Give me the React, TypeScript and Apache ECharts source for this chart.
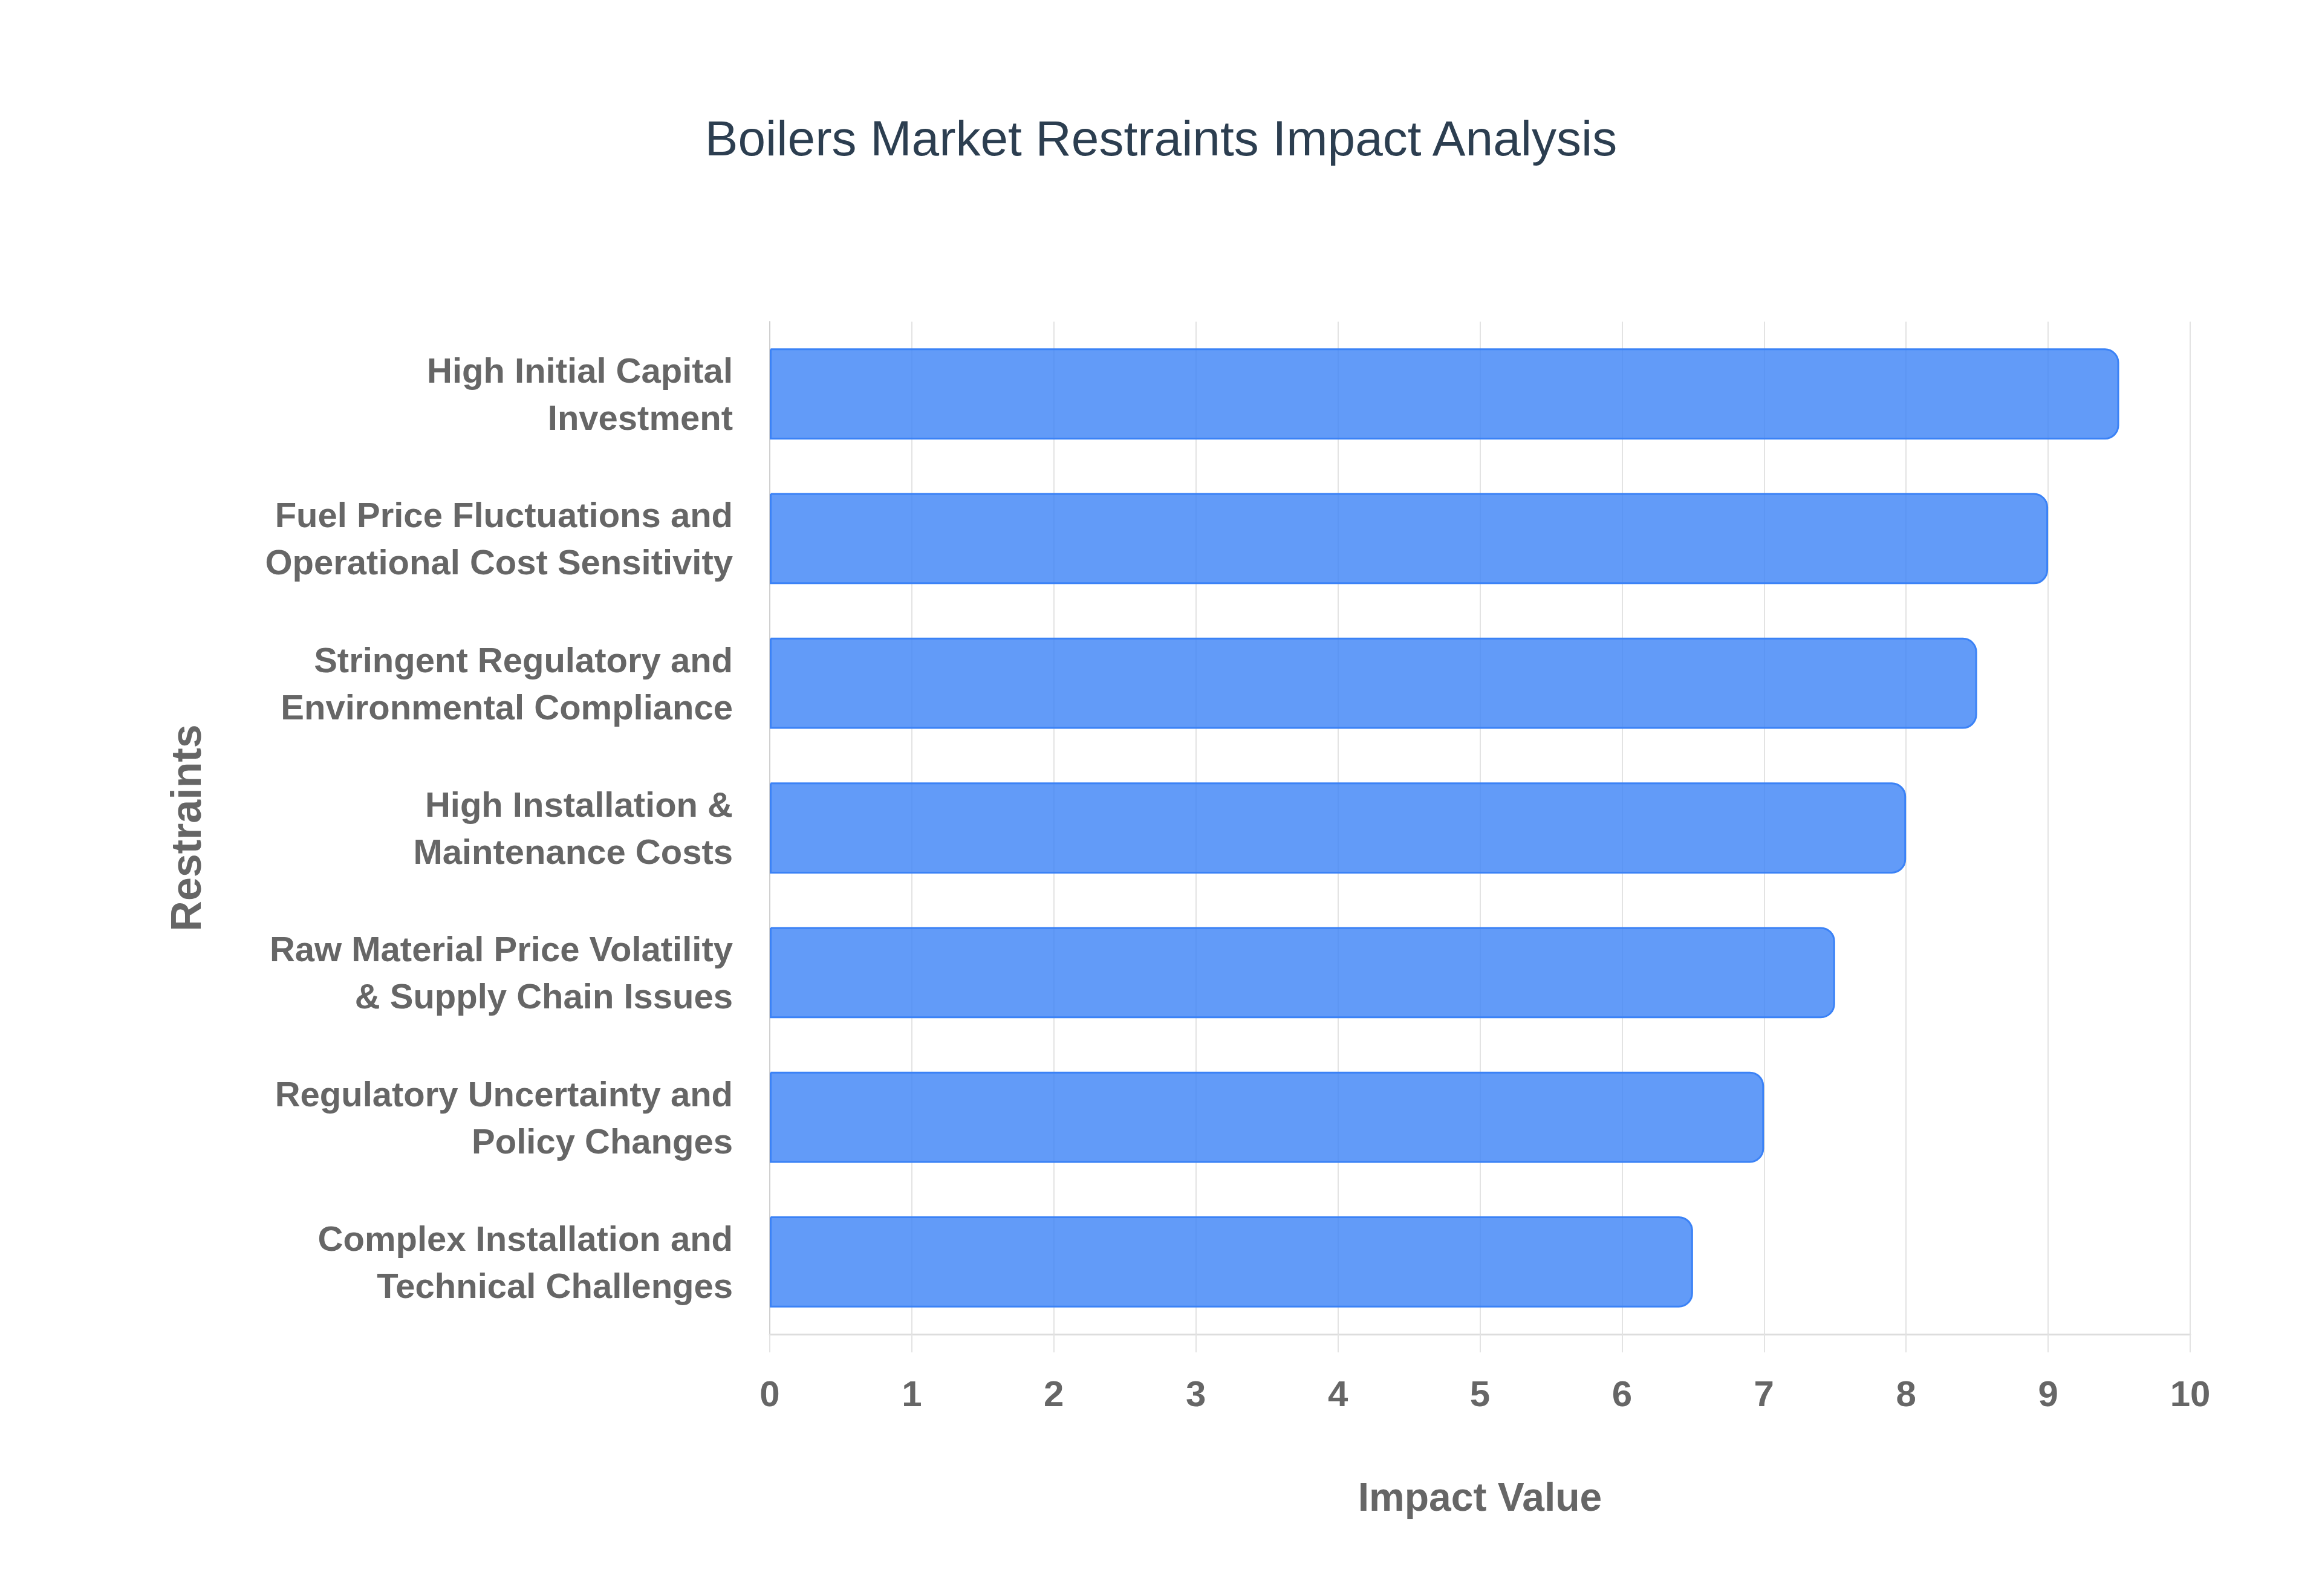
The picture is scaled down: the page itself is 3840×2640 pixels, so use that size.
import React, { useEffect, useRef } from 'react';
import * as echarts from 'echarts';

const restraints = [
  'High Initial Capital\nInvestment',
  'Fuel Price Fluctuations and\nOperational Cost Sensitivity',
  'Stringent Regulatory and\nEnvironmental Compliance',
  'High Installation &\nMaintenance Costs',
  'Raw Material Price Volatility\n& Supply Chain Issues',
  'Regulatory Uncertainty and\nPolicy Changes',
  'Complex Installation and\nTechnical Challenges',
];

const impactValues = [9.5, 9, 8.5, 8, 7.5, 7, 6.5];

const FONT = '"Liberation Sans", Arial, Helvetica, sans-serif';
const LABEL_GRAY = '#666666';
const GRID_GRAY = '#e3e3e3';

const App: React.FC = () => {
  const chartRef = useRef<HTMLDivElement | null>(null);

  useEffect(() => {
    if (!chartRef.current) return;
    const myChart = echarts.init(chartRef.current, undefined, { renderer: 'svg' });

    const option = {
      animation: false,
      backgroundColor: '#ffffff',
      title: {
        text: 'Boilers Market Restraints Impact Analysis',
        left: 'center',
        top: 182,
        textStyle: {
          fontFamily: FONT,
          fontSize: 82,
          fontWeight: 'normal',
          color: '#2c3e50',
        },
      },
      grid: {
        left: 1273,
        right: 218,
        top: 532,
        bottom: 433,
        containLabel: false,
      },
      xAxis: {
        type: 'value',
        min: 0,
        max: 10,
        interval: 1,
        name: 'Impact Value',
        nameLocation: 'middle',
        nameGap: 236,
        nameTextStyle: {
          fontFamily: FONT,
          fontSize: 66,
          fontWeight: 'bold',
          color: LABEL_GRAY,
        },
        axisLine: { show: true, lineStyle: { color: '#dddddd', width: 3 } },
        axisTick: { show: true, length: 30, lineStyle: { color: GRID_GRAY, width: 2 } },
        axisLabel: {
          margin: 68,
          fontFamily: FONT,
          fontSize: 60,
          fontWeight: 'bold',
          color: LABEL_GRAY,
        },
        splitLine: { show: true, lineStyle: { color: GRID_GRAY, width: 2 } },
      },
      yAxis: {
        type: 'category',
        data: restraints,
        inverse: true,
        name: 'Restraints',
        nameLocation: 'middle',
        nameGap: 930,
        nameTextStyle: {
          fontFamily: FONT,
          fontSize: 70,
          fontWeight: 'bold',
          color: LABEL_GRAY,
        },
        axisLine: { show: true, lineStyle: { color: '#d0d0d0', width: 2 } },
        axisTick: { show: false },
        axisLabel: {
          margin: 61,
          fontFamily: FONT,
          fontSize: 58,
          fontWeight: 'bold',
          lineHeight: 78,
          color: LABEL_GRAY,
          align: 'right',
        },
        splitLine: { show: false },
      },
      series: [
        {
          type: 'bar',
          data: impactValues,
          barCategoryGap: '37%',
          itemStyle: {
            color: 'rgba(59,130,246,0.8)',
            borderColor: '#3b82f6',
            borderWidth: 3,
            borderRadius: [0, 22, 22, 0],
          },
          emphasis: { disabled: true },
        },
      ],
    };

    myChart.setOption(option);

    return () => {
      myChart.dispose();
    };
  }, []);

  return (
    <div
      ref={chartRef}
      style={{ position: 'fixed', left: 0, top: 0, width: '100vw', height: '100vh' }}
    ></div>
  );
};

export default App;
